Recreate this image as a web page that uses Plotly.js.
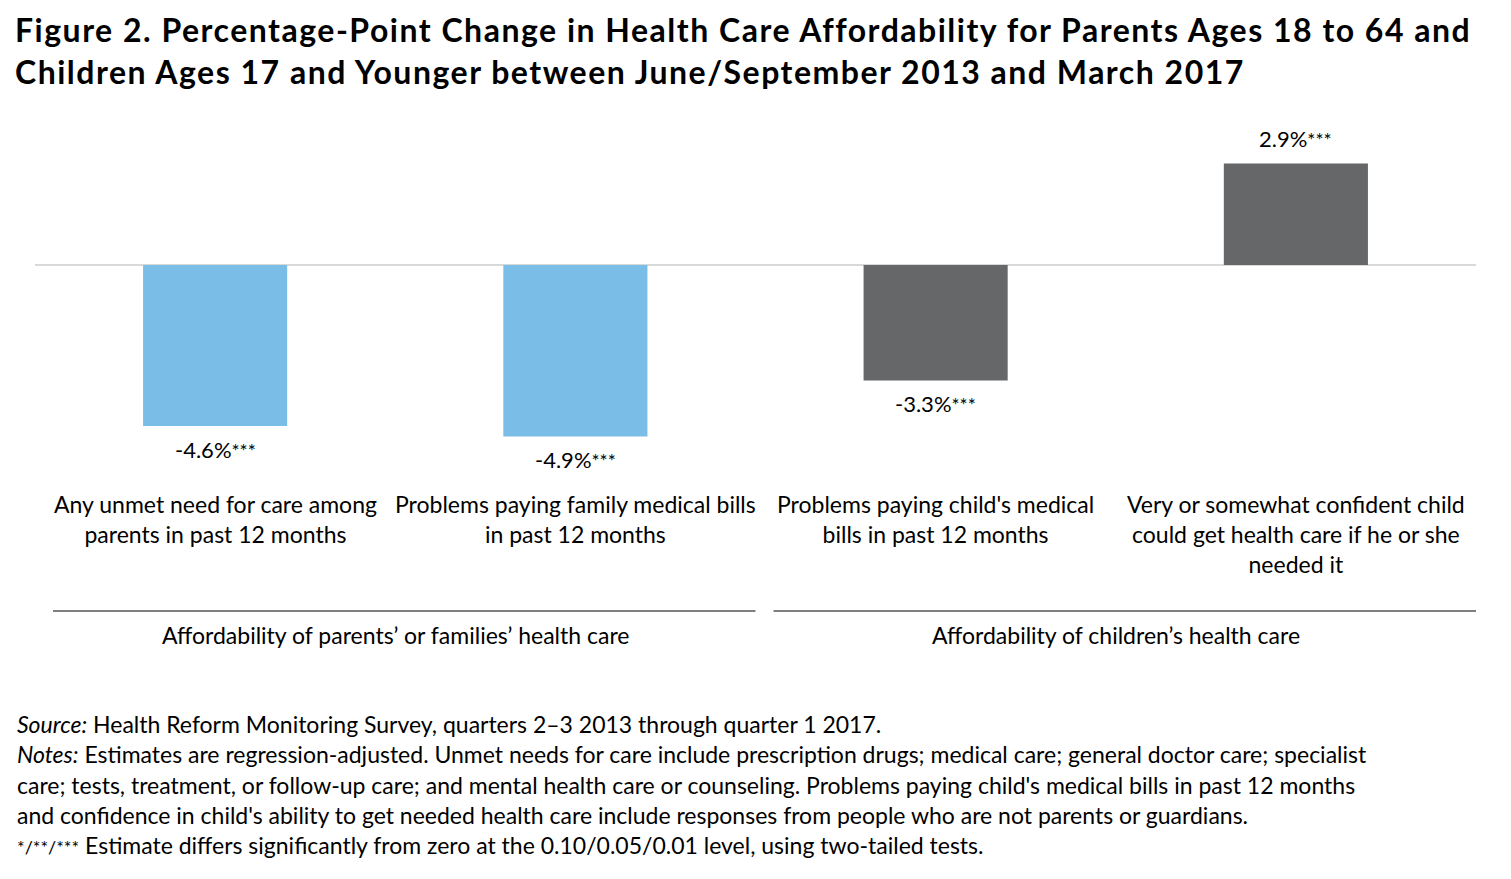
<!DOCTYPE html>
<html>
<head>
<meta charset="utf-8">
<script src="https://cdn.plot.ly/plotly-3.0.1.min.js"></script>
<style>
  body { margin: 0; background: #fff; }
  #chart { width: 1511px; height: 879px; }
  #chart .gtitle { letter-spacing: 1.5px; }
</style>
</head>
<body>
<div id="chart"></div>
<script>
//------------------------------------ data ---------------------------------------------------//
var categories = ['Any unmet need for care among<br>parents in past 12 months',
                  'Problems paying family medical bills<br>in past 12 months',
                  'Problems paying child\'s medical<br>bills in past 12 months',
                  'Very or somewhat confident child<br>could get health care if he or she<br>needed it'];
var change_values = [-4.6, -4.9, -3.3, 2.9];
var signif = ['***', '***', '***', '***'];
var bar_colors = ['#7abde6', '#7abde6', '#666769', '#666769'];

var group_labels = ['Affordability of parents\u2019 or families\u2019 health care',
                    'Affordability of children\u2019s health care'];
var group_first = [0, 2];
var group_last = [1, 3];

var footnotes = ['<i>Source:</i> Health Reform Monitoring Survey, quarters 2\u20133 2013 through quarter 1 2017.',
  '<i>Notes:</i> Estimates are regression-adjusted. Unmet needs for care include prescription drugs; medical care; general doctor care; specialist',
  'care; tests, treatment, or follow-up care; and mental health care or counseling. Problems paying child\'s medical bills in past 12 months',
  'and confidence in child\'s ability to get needed health care include responses from people who are not parents or guardians.',
  '<span style="font-size:18px">*/**/***</span> Estimate differs significantly from zero at the 0.10/0.05/0.01 level, using two-tailed tests.'];

//------------------------------------ layout helpers ---------------------------------------------------//
var FONT = 'Lato, "Open Sans", sans-serif';
var W = 1511, H = 879;
var mL = 35, mR = 35, mT = 120, mB = 404;
var plotW = W - mL - mR, plotH = H - mT - mB;
function px(x) { return (x - mL) / plotW; }
function py(y) { return (H - mB - y) / plotH; }

var x_idx = categories.map(function (c, i) { return i; });

var trace1 = {
  x: x_idx,
  y: change_values,
  type: 'bar',
  width: 0.4,
  marker: { color: bar_colors },
  hoverinfo: 'skip'
};

var annotations = [];

// value labels
change_values.forEach(function (v, i) {
  annotations.push({
    x: i, y: v, xref: 'x', yref: 'y',
    text: v.toFixed(1) + '%<span style="font-size:19px">' + signif[i] + '</span>',
    showarrow: false,
    yanchor: v < 0 ? 'top' : 'bottom',
    yshift: v < 0 ? -8 : 9,
    font: { family: FONT, size: 22, color: '#000' }
  });
});

// category labels
categories.forEach(function (c, i) {
  annotations.push({
    x: i, y: 0, xref: 'x', yref: 'paper',
    text: c, showarrow: false,
    yanchor: 'top', yshift: -13,
    align: 'center',
    font: { family: FONT, size: 23, color: '#000' }
  });
});

// group labels + lines
var shapes = [];
group_labels.forEach(function (g, k) {
  var a = group_first[k], b = group_last[k];
  shapes.push({
    type: 'line', xref: 'x', yref: 'paper',
    x0: a - 0.45, x1: b + 0.5, y0: py(611), y1: py(611),
    line: { color: '#000', width: 1 }
  });
  annotations.push({
    x: (a + b) / 2, y: py(635), xref: 'x', yref: 'paper',
    text: g, showarrow: false, yanchor: 'middle',
    font: { family: FONT, size: 23, color: '#000' }
  });
});

// footnotes
footnotes.forEach(function (t, i) {
  annotations.push({
    x: px(15), y: py(724 + i * 30.3), xref: 'paper', yref: 'paper',
    text: t, showarrow: false, xanchor: 'left', yanchor: 'middle', align: 'left',
    font: { family: FONT, size: 23, color: '#000' }
  });
});

var layout1 = {
  width: W, height: H,
  margin: { l: mL, r: mR, t: mT, b: mB },
  paper_bgcolor: '#fff', plot_bgcolor: '#fff',
  showlegend: false,
  title: {
    text: '<b>Figure 2. Percentage-Point Change in Health Care Affordability for Parents Ages 18 to 64 and<br>Children Ages 17 and Younger between June/September 2013 and March 2017</b>',
    x: 15 / W, xref: 'container', xanchor: 'left',
    y: 1 - 42 / H, yref: 'container', yanchor: 'middle',
    font: { family: FONT, size: 32, color: '#000' }
  },
  xaxis: { range: [-0.5, 3.5], showticklabels: false, ticks: '', showgrid: false, zeroline: false, fixedrange: true },
  yaxis: { range: [-6.0, 4.14], showticklabels: false, ticks: '', showgrid: false,
           zeroline: true, zerolinecolor: '#d9d9d9', zerolinewidth: 2, fixedrange: true },
  annotations: annotations,
  shapes: shapes
};

var config = { responsive: false, displayModeBar: false };
Plotly.newPlot('chart', [trace1], layout1, config);
</script>
</body>
</html>
